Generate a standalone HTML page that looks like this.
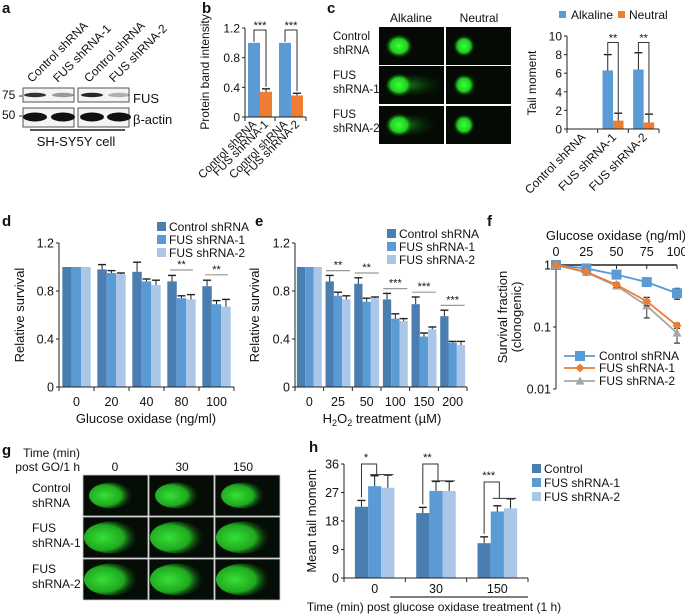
<!DOCTYPE html>
<html><head><meta charset="utf-8"><style>
html,body{margin:0;padding:0;background:#fff;}
svg{display:block;font-family:"Liberation Sans",Arial,sans-serif;}
</style></head><body>
<svg id="fig" width="685" height="616" viewBox="0 0 685 616" xmlns="http://www.w3.org/2000/svg">
<defs>
<radialGradient id="blob" cx="0.5" cy="0.5" r="0.5"><stop offset="0" stop-color="#3cff3c"/><stop offset="0.6" stop-color="#20d020"/><stop offset="1" stop-color="#0a300a" stop-opacity="0"/></radialGradient>
<radialGradient id="tail" cx="0.3" cy="0.5" r="0.7"><stop offset="0" stop-color="#1a8a1a"/><stop offset="1" stop-color="#031203" stop-opacity="0"/></radialGradient>
<radialGradient id="comet" cx="0.35" cy="0.5" r="0.65"><stop offset="0" stop-color="#36e036"/><stop offset="0.6" stop-color="#1fa81f"/><stop offset="1" stop-color="#0a2a0a" stop-opacity="0"/></radialGradient>
</defs>
</svg>
<script>
// ---------- data ----------
var bCategories = ["Control shRNA","FUS shRNA-1","Control shRNA","FUS shRNA-2"];
var bValues = [1.0, 0.34, 1.0, 0.29];
var bErrors = [0, 0.04, 0, 0.03];
var bTicks = [0, 0.4, 0.8, 1.2];

var cCategories = ["Control shRNA","FUS shRNA-1","FUS shRNA-2"];
var cAlkaline = [0, 6.3, 6.4];
var cAlkErr = [0, 1.7, 1.8];
var cNeutral = [0, 0.9, 0.7];
var cNeuErr = [0, 0.8, 0.9];
var cTicks = [0, 2, 4, 6, 8, 10];

var dCategories = ["0","20","40","80","100"];
var dControl = [1.0, 0.98, 0.96, 0.88, 0.84];
var dFus1 = [1.0, 0.95, 0.88, 0.74, 0.69];
var dFus2 = [1.0, 0.94, 0.85, 0.73, 0.67];
var dControlErr = [0, 0.04, 0.08, 0.05, 0.05];
var dFus1Err = [0, 0.02, 0.02, 0.02, 0.03];
var dFus2Err = [0, 0.01, 0.04, 0.04, 0.06];
var dSig = ["","","","**","**"];
var survTicks = [0, 0.4, 0.8, 1.2];

var eCategories = ["0","25","50","100","150","200"];
var eControl = [1.0, 0.88, 0.86, 0.73, 0.69, 0.59];
var eFus1 = [1.0, 0.76, 0.71, 0.57, 0.42, 0.37];
var eFus2 = [1.0, 0.73, 0.74, 0.55, 0.48, 0.35];
var eControlErr = [0, 0.05, 0.05, 0.05, 0.06, 0.05];
var eFus1Err = [0, 0.03, 0.03, 0.04, 0.03, 0.01];
var eFus2Err = [0, 0.03, 0.01, 0.02, 0.02, 0.03];
var eSig = ["","**","**","***","***","***"];

var fDoses = [0, 25, 50, 75, 100];
var fControl = [1.0, 0.88, 0.70, 0.53, 0.35];
var fControlErr = [0, 0.03, 0.05, 0.05, 0.07];
var fFus1 = [1.0, 0.78, 0.48, 0.26, 0.105];
var fFus1Err = [0, 0.03, 0.04, 0.04, 0.01];
var fFus2 = [1.0, 0.76, 0.46, 0.22, 0.08];
var fFus2Err = [0, 0.03, 0.04, 0.08, 0.025];
var fTicks = [0.01, 0.1, 1];

var hCategories = ["0","30","150"];
var hControl = [22.5, 20.5, 11];
var hFus1 = [29, 27.5, 21];
var hFus2 = [28.5, 27.5, 22];
var hControlErr = [2, 1.8, 2];
var hFus1Err = [3.3, 3, 1.8];
var hFus2Err = [4, 3, 3];
var hSig = ["*","**","***"];
var hTicks = [0, 9, 18, 27, 36];

// ---------- helpers ----------
var svg = document.getElementById('fig');
var NS = "http://www.w3.org/2000/svg";
var TF = 12.5;
function mk(tag, a, p){ var e=document.createElementNS(NS,tag); for(var k in a) e.setAttribute(k,a[k]); (p||svg).appendChild(e); return e; }
function grp(name){ var g=mk('g',{});   return g; }
function txt(p, x, y, s, o){ o=o||{}; var t=mk('text',{x:x,y:y,'font-size':o.fs||11,'text-anchor':o.a||'start',fill:o.fill||'#111'},p); if(o.w) t.setAttribute('font-weight',o.w); if(o.rot!==undefined) t.setAttribute('transform','rotate('+o.rot+' '+x+' '+y+')'); t.textContent=s; return t; }
function ln(p,x1,y1,x2,y2,c,w){ return mk('line',{x1:x1,y1:y1,x2:x2,y2:y2,stroke:c||'#222','stroke-width':w||1},p); }
function rc(p,x,y,w,h,f){ return mk('rect',{x:x,y:y,width:w,height:h,fill:f},p); }
function errBar(p,x,yv,ye,cap){ ln(p,x,yv,x,ye,'#222',1); ln(p,x-cap,ye,x+cap,ye,'#222',1.4); }
function yAxis(p,x,ys,ticks,fmt,y0,y1,fs){ ln(p,x,y0,x,y1); ticks.forEach(function(t){ var y=ys(t); ln(p,x-3,y,x,y); var l=txt(p,x-5,y+4.5,fmt?fmt(t):String(t),{a:'end',fs:fs||TF});   }); }

// ---------- panel labels ----------
[['a',2,13],['b',202,13],['c',327,13],['d',2,226],['e',255,226],['f',487,226],['g',2,455],['h',309,452]].forEach(function(L){
  var t=txt(svg,L[1],L[2],L[0],{fs:15,w:'bold'});
  
  
});

// ---------- panel a: western blot ----------
(function(){
  var g=grp('panel-a-western-blot');
  var lanes=[35,61,92,117], names=["Control shRNA","FUS shRNA-1","Control shRNA","FUS shRNA-2"];
  lanes.forEach(function(x,i){ var t=txt(g,x-3,83,names[i],{a:'start',rot:-45,fs:12});
      });
  [[23,88,51,14],[78,88,51,14],[23,108,51,19],[78,108,51,19]].forEach(function(b){ mk('rect',{x:b[0],y:b[1],width:b[2],height:b[3],fill:'#f4f4f4',stroke:'#555','stroke-width':1},g); });
  var fusI=[0.85,0.4,0.9,0.3];
  lanes.forEach(function(x,i){ mk('ellipse',{cx:x+(i%2?2:0),cy:95,rx:11,ry:2.2,fill:'#111','fill-opacity':fusI[i]},g); mk('ellipse',{cx:x+(i%2?2:0),cy:117,rx:12,ry:4.5,fill:'#111'},g); });
  txt(g,2,99,"75 -",{fs:12}); txt(g,2,119,"50 -",{fs:12});
  txt(g,133,103,"FUS",{fs:13}); txt(g,133,124,"β-actin",{fs:13});
  ln(g,30,130,125,130,'#555',2);
  txt(g,76,146,"SH-SY5Y cell",{a:'middle',fs:13});
})();

// ---------- panel b ----------
(function(){
  var g=grp('panel-b-bar-chart');
  var y0=117, ys=function(v){ return y0 - v/1.2*89; };
  var xs=[248,260,279,291], bw=12, cols=['#5b9bd5','#ed7d31','#5b9bd5','#ed7d31'];
  bValues.forEach(function(v,i){ var r=rc(g,xs[i],ys(v),bw,y0-ys(v),cols[i]);  
    if(bErrors[i]>0) errBar(g,xs[i]+bw/2,ys(v),ys(v+bErrors[i]),4); });
  yAxis(g,245,ys,bTicks,function(t){return t===0?'0':t.toFixed(1);},ys(1.2),y0,12);
  ln(g,245,y0,306,y0); [245,275,306].forEach(function(x){ ln(g,x,y0,x,y0+4); });
  [0,2].forEach(function(i){ var xa=xs[i]+bw/2, xb=xs[i+1]+bw/2, top=ys(1.2)+2;
    mk('polyline',{points:xa+','+(ys(bValues[i])-1)+' '+xa+','+top+' '+xb+','+top+' '+xb+','+(ys(bValues[i+1]+bErrors[i+1])-2),fill:'none',stroke:'#333','stroke-width':1},g);
    txt(g,(xa+xb)/2,top-1,"***",{a:'middle',fs:11}); });
  bCategories.forEach(function(c,i){ var x=xs[i]+bw/2+3, y=125; var t=txt(g,x,y,c,{a:'end',rot:-45,fs:11.5});   });
  var yt=txt(g,209,72,"Protein band intensity",{a:'middle',rot:-90,fs:12});  
})();

// ---------- panel c: comet images ----------
(function(){
  var g=grp('panel-c-comet-images');
  txt(g,411,22,"Alkaline",{a:'middle',fs:12}); txt(g,479,22,"Neutral",{a:'middle',fs:12});
  [["Control","shRNA",40],["FUS","shRNA-1",79],["FUS","shRNA-2",118]].forEach(function(r){ txt(g,333,r[2],r[0],{fs:11.5}); txt(g,333,r[2]+14,r[1],{fs:11.5}); });
  var rows=[27,66,106], cols=[379,446];
  var tails=[[0,0],[30,8],[25,3]];
  rows.forEach(function(y,ri){ cols.forEach(function(x,ci){
    rc(g,x,y,65,38,'#050a05');
    var tl=tails[ri][ci]; if(tl>0) mk('ellipse',{cx:x+20+tl*0.6,cy:y+19,rx:tl,ry:10,fill:'url(#tail)'},g);
    mk('ellipse',{cx:x+(ci?18:20),cy:y+19,rx:ci?11:14,ry:ci?11:12,fill:'url(#blob)'},g);
  }); });
})();

// ---------- panel c chart ----------
(function(){
  var g=grp('panel-c-tail-moment-chart');
  var y0=129, ys=function(v){ return y0 - v/10*93; };
  var xl=567, xr=659, gw=(xr-xl)/3, bw=10.5;
  cCategories.forEach(function(c,i){ var cx=xl+gw*(i+0.5);
    var r1=rc(g,cx-bw,ys(cAlkaline[i]),bw,y0-ys(cAlkaline[i]),'#5b9bd5');  
    var r2=rc(g,cx,ys(cNeutral[i]),bw,y0-ys(cNeutral[i]),'#ed7d31');  
    if(cAlkErr[i]>0){ errBar(g,cx-bw/2,ys(cAlkaline[i]),ys(cAlkaline[i]+cAlkErr[i]),4); errBar(g,cx+bw/2,ys(cNeutral[i]),ys(cNeutral[i]+cNeuErr[i]),4);
      var top=ys(9.3); mk('polyline',{points:(cx-bw/2)+','+(ys(cAlkaline[i]+cAlkErr[i])-1)+' '+(cx-bw/2)+','+top+' '+(cx+bw/2)+','+top+' '+(cx+bw/2)+','+(ys(cNeutral[i]+cNeuErr[i])-1),fill:'none',stroke:'#333'},g);
      txt(g,cx,top-1,"**",{a:'middle',fs:11}); }
    var t=txt(g,cx+4,138,c,{a:'end',rot:-45,fs:12});  
  });
  yAxis(g,xl,ys,cTicks,null,ys(10),y0,12);
  ln(g,xl,y0,xr,y0); [0,1,2,3].forEach(function(k){ ln(g,xl+gw*k,y0,xl+gw*k,y0+4); });
  rc(g,559,11,7,7,'#5b9bd5'); txt(g,571,19,"Alkaline",{fs:12});
  rc(g,618,11,7,7,'#ed7d31'); txt(g,629,19,"Neutral",{fs:12});
  var yt=txt(g,536,83,"Tail moment",{a:'middle',rot:-90,fs:12});  
})();

// ---------- grouped bar chart (d, e, h) ----------
var C3=['#4a7eb1','#5a9bd6','#aac7e8'];
function grouped(g,cats,series,errs,xl,xr,y0,ys,bwFrac,capw){
  var gw=(xr-xl)/cats.length, bw=gw*bwFrac;
  cats.forEach(function(c,i){ var cx=xl+gw*(i+0.5);
    series.forEach(function(s,k){ var x=cx+(k-1.5)*bw; var r=rc(g,x,ys(s[i]),bw,y0-ys(s[i]),C3[k]);
       
      if(errs[k][i]>0) errBar(g,x+bw/2,ys(s[i]),ys(s[i]+errs[k][i]),capw); });
  });
  return {gw:gw,bw:bw};
}
function legend3(g,x,ys,labels){ labels.forEach(function(l,k){ rc(g,x,ys[k]-9,9,9,C3[k]); var t=txt(g,x+12,ys[k],l,{fs:12});   }); }

// ---------- panel d ----------
(function(){
  var g=grp('panel-d-bar-chart');
  var y0=387, ys=function(v){ return y0 - v/1.2*144; }, xl=59, xr=234;
  var r=grouped(g,dCategories,[dControl,dFus1,dFus2],[dControlErr,dFus1Err,dFus2Err],xl,xr,y0,ys,0.27,4);
  yAxis(g,xl,ys,survTicks,function(t){return t===0?'0':t.toFixed(1);},ys(1.2),y0);
  ln(g,xl,y0,xr,y0);
  dCategories.forEach(function(c,i){ var cx=xl+r.gw*(i+0.5); ln(g,xl+r.gw*i,y0,xl+r.gw*i,y0+4); var t=txt(g,cx,406,c,{a:'middle',fs:TF});  
    if(dSig[i]){ var top=ys(Math.max(dControl[i]+dControlErr[i],dFus1[i])+0.045); ln(g,cx-r.bw*1.2,top,cx+r.bw*1.2,top,'#999',1.2); txt(g,cx,top-2,dSig[i],{a:'middle',fs:11}); } });
  ln(g,xr,y0,xr,y0+4);
  legend3(g,157,[231,244,257],["Control shRNA","FUS shRNA-1","FUS shRNA-2"]);
  var yt=txt(g,24,315,"Relative survival",{a:'middle',rot:-90,fs:13});  
  var xt=txt(g,146,423,"Glucose oxidase (ng/ml)",{a:'middle',fs:13});  
})();

// ---------- panel e ----------
(function(){
  var g=grp('panel-e-bar-chart');
  var y0=387, ys=function(v){ return y0 - v/1.2*144; }, xl=295, xr=467;
  var r=grouped(g,eCategories,[eControl,eFus1,eFus2],[eControlErr,eFus1Err,eFus2Err],xl,xr,y0,ys,0.29,4);
  yAxis(g,xl,ys,survTicks,function(t){return t===0?'0':t.toFixed(1);},ys(1.2),y0);
  ln(g,xl,y0,xr,y0);
  eCategories.forEach(function(c,i){ var cx=xl+r.gw*(i+0.5); ln(g,xl+r.gw*i,y0,xl+r.gw*i,y0+4); var t=txt(g,cx,406,c,{a:'middle',fs:TF});  
    if(eSig[i]){ var top=ys(eControl[i]+eControlErr[i]+0.04); ln(g,cx-r.bw*1.45,top,cx+r.bw*1.45,top,'#999',1.2); txt(g,cx,top-2,eSig[i],{a:'middle',fs:11}); } });
  ln(g,xr,y0,xr,y0+4);
  legend3(g,387,[238,251,264],["Control shRNA","FUS shRNA-1","FUS shRNA-2"]);
  var yt=txt(g,259,315,"Relative survival",{a:'middle',rot:-90,fs:13});  
  var xt=mk('text',{x:382,y:423,'font-size':13,'text-anchor':'middle',fill:'#111'},g);
  
  
  xt.innerHTML='H<tspan font-size="9" dy="3">2</tspan><tspan dy="-3">O</tspan><tspan font-size="9" dy="3">2</tspan><tspan dy="-3"> treatment (µM)</tspan>';
})();

// ---------- panel f ----------
(function(){
  var g=grp('panel-f-line-chart');
  var xl=556, xr=677, yTop=265, dec=62;
  var xs=function(d){ return xl + d/100*(xr-xl); };
  var ys=function(v){ return yTop - Math.log10(v)*dec; };
  ln(g,xl,yTop,xl,ys(0.01)); ln(g,xl,yTop,xr,yTop,'#222',1.5);
  fTicks.forEach(function(t){ ln(g,xl-3,ys(t),xl,ys(t)); var l=txt(g,xl-5,ys(t)+4.5,String(t),{a:'end',fs:TF});   });
  fDoses.forEach(function(d){ ln(g,xs(d),yTop,xs(d),yTop+4); var l=txt(g,xs(d),256,String(d),{a:'middle',fs:TF});   });
  txt(g,616,240,"Glucose oxidase (ng/ml)",{a:'middle',fs:13});
  var series=[[fControl,fControlErr,'#5b9bd5','sq'],[fFus2,fFus2Err,'#a6a6a6','tri'],[fFus1,fFus1Err,'#ed7d31','dia']];
  function marker(p,x,y,type,c,s){ if(type==='sq') return rc(p,x-s,y-s,2*s,2*s,c);
    if(type==='dia') return mk('polygon',{points:x+','+(y-s)+' '+(x+s)+','+y+' '+x+','+(y+s)+' '+(x-s)+','+y,fill:c},p);
    return mk('polygon',{points:x+','+(y-s)+' '+(x+s)+','+(y+s*0.8)+' '+(x-s)+','+(y+s*0.8),fill:c},p); }
  series.forEach(function(S){
    var pts=fDoses.map(function(d,i){ return xs(d)+','+ys(S[0][i]); }).join(' ');
    var pl=mk('polyline',{points:pts,fill:'none',stroke:S[2],'stroke-width':1.8},g);
    
    
    fDoses.forEach(function(d,i){ var x=xs(d), v=S[0][i], e=S[1][i];
      if(e>0){ ln(g,x,ys(v+e),x,ys(Math.max(v-e,0.011)),'#333',1); ln(g,x-3,ys(v+e),x+3,ys(v+e),'#333',1.2); ln(g,x-3,ys(Math.max(v-e,0.011)),x+3,ys(Math.max(v-e,0.011)),'#333',1.2); }
      var m=marker(g,x,ys(v),S[3],S[2],S[3]==='sq'?5:4.5);   });
  });
  [["Control shRNA",'#5b9bd5','sq',356],["FUS shRNA-1",'#ed7d31','dia',368],["FUS shRNA-2",'#a6a6a6','tri',381]].forEach(function(L){
    ln(g,564,L[3],595,L[3],L[1],1.8); marker(g,580,L[3],L[2],L[1],L[2]==='sq'?5:4.5);
    var t=txt(g,599,L[3]+4,L[0],{fs:12});   });
  txt(g,507,317,"Survival fraction",{a:'middle',rot:-90,fs:13});
  txt(g,521,317,"(clonogenic)",{a:'middle',rot:-90,fs:13});
})();

// ---------- panel g ----------
(function(){
  var g=grp('panel-g-comet-images');
  txt(g,80,457,"Time (min)",{a:'end',fs:12}); txt(g,80,471,"post GO/1 h",{a:'end',fs:12});
  txt(g,115,471,"0",{a:'middle',fs:12}); txt(g,182,471,"30",{a:'middle',fs:12}); txt(g,243,471,"150",{a:'middle',fs:12});
  [["Control","shRNA",492],["FUS","shRNA-1",532],["FUS","shRNA-2",573]].forEach(function(r){ txt(g,32,r[2],r[0],{fs:12}); txt(g,32,r[2]+15,r[1],{fs:12}); });
  var cols=[83,149,215], rows=[475,517,559];
  rows.forEach(function(y,ri){ cols.forEach(function(x,ci){
    mk('rect',{x:x,y:y,width:65,height:41,fill:'#060d06',stroke:'#ccc','stroke-width':0.8},g);
    var w=ri===0?22:27;
    mk('ellipse',{cx:x+28,cy:y+20.5,rx:w,ry:ri===0?13:16,fill:'url(#comet)'},g);
  }); });
})();

// ---------- panel h ----------
(function(){
  var g=grp('panel-h-bar-chart');
  var y0=578, ys=function(v){ return y0 - v/36*114; }, xl=344, xr=528;
  var r=grouped(g,hCategories,[hControl,hFus1,hFus2],[hControlErr,hFus1Err,hFus2Err],xl,xr,y0,ys,0.215,4);
  yAxis(g,xl,ys,hTicks,null,ys(36),y0);
  ln(g,xl,y0,xr,y0);
  hCategories.forEach(function(c,i){ var cx=xl+r.gw*(i+0.5); ln(g,xl+r.gw*i,y0,xl+r.gw*i,y0+4);
    var t=txt(g,cx,593,c,{a:'middle',fs:TF});  
    var xc=cx-r.bw, x1=cx, x2=cx+r.bw;
    var topF=ys(Math.max(hFus1[i]+hFus1Err[i],hFus2[i]+hFus2Err[i]))-0.5;
    var top=ys(36)+(i===2?18:0);
    mk('polyline',{points:xc+','+(ys(hControl[i]+hControlErr[i])-3)+' '+xc+','+top+' '+(cx+2)+','+top+' '+(cx+2)+','+topF,fill:'none',stroke:'#333'},g);
    ln(g,x1-r.bw/2+2,topF,x2+r.bw/2-1,topF,'#333',1);
    txt(g,(xc+cx)/2-2,top-3,hSig[i],{a:'middle',fs:11});
  });
  ln(g,xr,y0,xr,y0+4);
  ln(g,390,597,528,597,'#333',1.2);
  legend3(g,532,[473,487,501],["Control","FUS shRNA-1","FUS shRNA-2"]);
  var yt=txt(g,316,521,"Mean tail moment",{a:'middle',rot:-90,fs:13});  
  var xt=txt(g,434,611,"Time (min) post glucose oxidase treatment (1 h)",{a:'middle',fs:12});  
})();
</script>
</body></html>
